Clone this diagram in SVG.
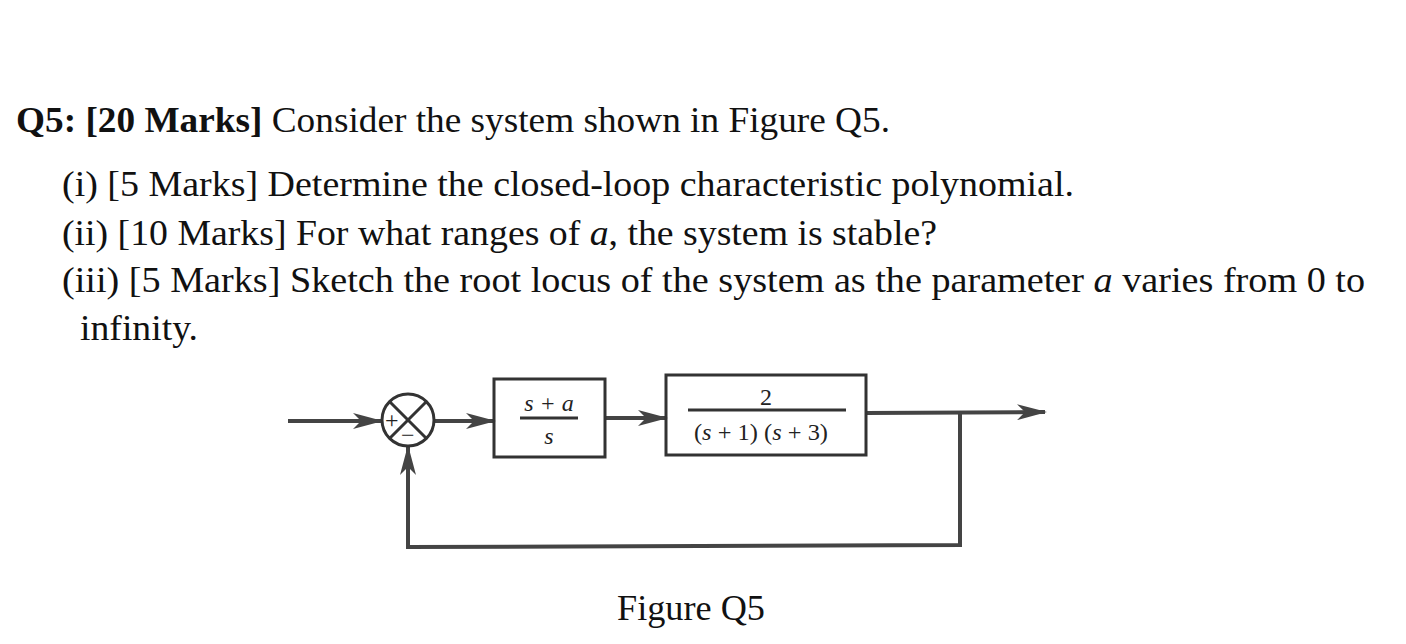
<svg xmlns="http://www.w3.org/2000/svg" width="1406" height="644" viewBox="0 0 1406 644">
<style>
.t{font-family:"Liberation Serif",serif;font-size:36px;fill:#111}
.m{font-family:"Liberation Serif",serif;font-style:italic;font-size:24px;fill:#222}
.n{font-family:"Liberation Serif",serif;font-size:24px;fill:#222}
.b{fill:none;stroke:#333;stroke-width:3}
.c line,.c polyline{fill:none;stroke:#444;stroke-width:4}
</style>
<defs>
<marker id="A" markerWidth="30" markerHeight="16" refX="28" refY="8" orient="auto" markerUnits="userSpaceOnUse" viewBox="0 0 30 16"><path d="M0,0 L30,8 L0,16 L8,8z" fill="#444"/></marker></defs>
<rect width="1406" height="644" fill="#fff"/>
<text class="t" x="16" y="132" textLength="874" lengthAdjust="spacingAndGlyphs"><tspan font-weight="bold">Q5: [20 Marks]</tspan> Consider the system shown in Figure Q5.</text>
<text class="t" x="62" y="196" textLength="1012" lengthAdjust="spacingAndGlyphs">(i)  [5 Marks] Determine the closed-loop characteristic polynomial.</text>
<text class="t" x="62" y="245" textLength="875" lengthAdjust="spacingAndGlyphs">(ii) [10 Marks] For what ranges of <tspan font-style="italic">a</tspan>, the system is stable?</text>
<text class="t" x="62" y="292" textLength="1303" lengthAdjust="spacingAndGlyphs">(iii)  [5 Marks] Sketch the root locus of the system as the parameter <tspan font-style="italic">a</tspan> varies from 0 to</text>
<text class="t" x="80" y="340" textLength="118" lengthAdjust="spacingAndGlyphs">infinity.</text>
<g class="c" id="connectors">
<line x1="288" y1="421" x2="381" y2="421" marker-end="url(#A)"/>
<line x1="435" y1="421" x2="494" y2="421" marker-end="url(#A)"/>
<line x1="605" y1="418" x2="666" y2="418" marker-end="url(#A)"/>
<line x1="866" y1="413" x2="1045" y2="412" marker-end="url(#A)"/>
<polyline points="960,413 960,545 408,547 408,447" marker-end="url(#A)"/>
</g>
<g id="sum">
<circle class="b" cx="408" cy="420" r="26"/>
<line class="b" x1="390" y1="402" x2="426" y2="438"/>
<line class="b" x1="426" y1="402" x2="390" y2="438"/>
<text class="n" x="385" y="428" font-size="19">+</text>
<text class="n" x="401" y="443" font-size="19">−</text>
</g>
<g id="block1">
<rect class="b" x="494" y="379" width="111" height="78"/>
<text class="m" x="549" y="411" text-anchor="middle">s + a</text>
<line class="b" x1="520" y1="418" x2="578" y2="418" stroke-width="2.5"/>
<text class="m" x="549" y="444" text-anchor="middle">s</text>
</g>
<g id="block2">
<rect class="b" x="666" y="375" width="200" height="80"/>
<text class="n" x="766" y="405" text-anchor="middle">2</text>
<line class="b" x1="688" y1="410" x2="846" y2="410" stroke-width="2.5"/>
<text class="n" x="761" y="440" text-anchor="middle" textLength="134" lengthAdjust="spacingAndGlyphs">(<tspan font-style="italic">s</tspan> + 1) (<tspan font-style="italic">s</tspan> + 3)</text>
</g>
<text class="t" x="617" y="620" font-size="31" textLength="148" lengthAdjust="spacingAndGlyphs">Figure Q5</text>
</svg>
